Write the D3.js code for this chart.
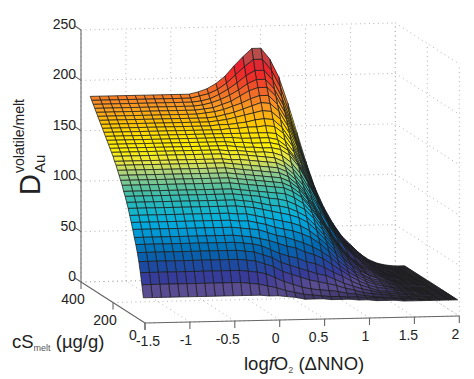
<!DOCTYPE html>
<html><head><meta charset="utf-8">
<style>html,body{margin:0;padding:0;background:#fff}svg{display:block}text{font-family:"Liberation Sans",Arial,sans-serif;fill:#222}</style>
<script src="https://cdn.jsdelivr.net/npm/d3@7"></script>
</head><body><svg id="c" width="474" height="379"></svg>
<script>
const logfO2 = [-1.5,-1.4,-1.3,-1.2,-1.1,-1,-0.9,-0.8,-0.7,-0.6,-0.5,-0.4,-0.3,-0.2,-0.1,0,0.1,0.2,0.3,0.4,0.5,0.6,0.7,0.8,0.9,1,1.1,1.2,1.3,1.4,1.5,1.6,1.7,1.8,1.9,2];
const cSmelt = [10,19.5,29,38.5,48,57.5,67,76.5,86,95.5,105,114.5,124,133.5,143,152.5,162,171.5,181,190.5,200,209.5,219,228.5,238,247.5,257,266.5,276,285.5,295,304.5,314,323.5,333,342.5];
const D = [
[24,24,24,24,24,24,24,24,24,24,24,24,24,24,23,23,22,21,19,19,19,18,18,18,17,17,16,16,16,15,15,15,15,15,15,15],
[36,36,36,36,36,36,36,36,36,36,36,36,35,34,32,30,27,25,23,22,21,20,20,19,19,18,18,17,17,16,16,15,15,15,15,15],
[47,47,47,47,47,47,47,47,47,47,47,47,46,45,43,39,35,32,29,27,26,25,24,22,21,19,18,17,17,16,16,15,15,15,15,15],
[57,57,57,57,57,57,57,57,57,57,57,57,56,55,52,49,44,41,38,35,33,31,29,26,24,21,20,19,18,17,16,16,15,15,15,15],
[65,65,65,65,65,65,65,65,65,65,65,65,64,63,60,57,52,49,46,43,40,38,34,30,27,24,22,20,19,18,17,16,15,15,15,15],
[72,72,72,72,72,72,72,72,72,72,72,72,71,70,68,64,60,57,55,51,49,45,40,36,31,27,24,21,20,19,17,16,16,15,15,15],
[78,78,78,78,78,78,78,78,78,78,78,78,77,76,74,72,69,66,64,60,57,53,47,41,35,30,26,23,22,20,18,16,16,15,15,15],
[85,85,85,85,85,85,85,85,85,85,85,85,84,83,82,79,76,74,71,68,64,59,53,45,38,33,28,25,23,21,18,17,16,15,15,15],
[91,91,91,91,91,91,91,91,91,91,91,91,90,90,88,86,83,81,79,76,72,66,58,49,42,35,30,26,24,21,19,17,16,15,15,15],
[97,97,97,97,97,97,97,97,97,97,97,97,96,96,94,92,90,88,86,83,78,71,63,54,45,37,32,27,25,22,19,17,16,15,15,15],
[103,103,103,103,103,103,103,103,103,103,103,103,103,102,101,99,97,95,93,90,85,77,67,57,48,40,33,28,26,23,20,17,16,15,15,15],
[108,108,108,108,108,108,108,108,108,108,108,108,108,107,106,104,102,101,99,95,90,81,71,61,50,41,35,30,27,23,20,17,16,15,15,15],
[113,113,113,113,113,113,113,113,113,113,113,113,113,112,111,110,108,107,105,101,96,87,75,64,53,43,36,30,27,24,20,18,16,15,15,15],
[117,117,117,117,117,117,117,117,117,117,117,117,117,116,115,114,113,112,111,107,101,91,79,67,55,45,38,31,28,25,21,18,16,15,15,15],
[122,122,122,122,122,122,122,122,122,122,122,122,122,121,120,119,118,117,116,112,106,95,83,70,57,47,39,32,29,25,21,18,17,16,15,15],
[126,126,126,126,126,126,126,126,126,126,126,126,126,125,124,123,122,121,120,116,109,98,85,72,59,48,40,33,30,25,21,18,17,16,15,15],
[130,130,130,130,130,130,130,130,130,130,130,130,130,129,128,127,126,125,124,120,113,102,88,74,61,49,41,34,30,26,21,18,17,16,15,15],
[134,134,134,134,134,134,134,134,134,134,134,134,134,133,132,131,130,129,128,124,116,105,91,76,62,50,41,34,31,26,22,18,17,16,15,15],
[138,138,138,138,138,138,138,138,138,138,138,138,138,137,136,135,134,133,132,128,120,108,94,79,64,52,42,35,31,27,22,18,17,16,15,15],
[141,141,141,141,141,141,141,141,141,141,141,141,141,140,140,139,138,137,136,132,124,113,98,82,67,54,44,36,32,27,22,19,17,16,15,15],
[145,145,145,145,145,145,145,145,145,145,145,145,145,144,144,143,142,141,140,136,129,118,103,87,72,58,47,38,32,27,22,19,17,16,15,15],
[148,148,148,148,148,148,148,148,148,148,148,148,148,147,147,146,145,145,144,141,134,123,108,91,75,60,49,40,33,28,23,19,17,16,15,15],
[151,151,151,151,151,151,151,151,151,151,151,151,151,151,150,149,149,148,148,146,140,129,113,96,78,63,51,41,33,28,23,19,17,16,15,15],
[154,154,154,154,154,154,154,154,154,154,154,154,154,154,153,153,152,152,152,150,144,132,116,98,80,64,52,42,34,29,23,19,17,16,15,15],
[157,157,157,157,157,157,157,157,157,157,157,157,157,157,157,156,156,156,156,154,147,135,119,100,82,65,53,43,35,29,23,19,17,16,15,15],
[160,160,160,160,160,160,160,160,160,160,160,160,160,160,160,160,160,160,160,159,152,140,122,103,85,67,54,44,35,30,24,19,17,16,15,15],
[163,163,163,163,163,163,163,163,163,163,163,163,163,163,164,164,165,165,166,165,158,145,127,107,87,69,56,45,36,30,24,20,17,16,15,15],
[166,166,166,166,166,166,166,166,166,166,166,166,166,167,167,168,169,171,172,171,163,150,131,111,90,72,57,46,37,31,24,20,17,16,15,15],
[169,169,169,169,169,169,169,169,169,169,169,169,169,170,171,173,175,177,179,178,170,156,136,115,94,74,59,48,38,31,25,20,17,16,15,15],
[172,172,172,172,172,172,172,172,172,172,172,172,172,173,175,177,180,183,186,185,177,162,142,119,97,77,61,49,39,32,25,20,18,16,15,15],
[175,175,175,175,175,175,175,175,175,175,175,175,176,177,179,182,185,189,192,192,183,168,147,124,100,79,63,51,40,33,26,20,18,16,15,15],
[178,178,178,178,178,178,178,178,178,178,178,178,179,180,183,186,191,196,199,199,190,174,152,128,104,82,65,52,41,34,26,21,18,16,15,15],
[181,181,181,181,181,181,181,181,181,181,181,181,182,184,187,191,196,202,206,206,196,180,157,132,107,84,67,53,42,34,27,21,18,16,15,15],
[184,184,184,184,184,184,184,184,184,184,184,184,185,187,191,196,202,209,214,214,204,187,163,137,111,87,69,55,43,35,27,21,18,16,15,15],
[187,187,187,187,187,187,187,187,187,187,187,187,189,191,195,201,209,217,224,224,213,196,170,143,116,91,72,57,44,36,28,21,18,16,15,15],
[190,190,190,190,190,190,190,190,190,190,190,190,192,195,200,207,217,226,234,234,223,205,179,150,121,95,75,59,46,37,28,22,18,16,15,15]
];
const xTicks = [-1.5,-1,-0.5,0,0.5,1,1.5,2];
const xTickLabels = ["-1.5","-1","-0.5","0","0.5","1","1.5","2"];
const yTicks = [0,200,400];
const yTickLabels = ["0","200","400"];
const zTicks = [0,50,100,150,200,250];
const zTickLabels = ["0","50","100","150","200","250"];
const colorStops = [0,15,20,25,30,40,52,65,78,90,105,118,130,140,150,160,170,180,195,207,217,226,236];
const colorValues = ["#1a1a20","#2e2a3c","#3e3664","#54488a","#5a4c90","#3a3a98","#1d4aa0","#0068b0","#0090d0","#00aee0","#20b8c0","#50c0a0","#a0d088","#e8e840","#fff000","#ffe000","#ffc000","#fca020","#f06828","#f03028","#e8202c","#c04848","#a85850"];

const svg = d3.select("#c");
const xS = d3.scaleLinear().domain([-1.5,2]);
const xPx = xS.copy().range([145,459.3]), xPy = xS.copy().range([0,-7]);
const yS = d3.scaleLinear().domain([0,400]);
const yPx = yS.copy().range([0,-64]), yPy = yS.copy().range([0,-41]);
const zPy = d3.scaleLinear().domain([0,250]).range([0,-252]);
const color = d3.scaleLinear().domain(colorStops).range(colorValues).interpolate(d3.interpolateRgb).clamp(true);
const P = (x,y,z)=>[xPx(x)+yPx(y), 323+xPy(x)+yPy(y)+zPy(z)];
const line = d3.line();
const grid = svg.append("g").attr("fill","none").attr("stroke","#b4b4b4").attr("stroke-width",1).attr("stroke-dasharray","1,3.5");
const seg = (a,b)=>grid.append("path").attr("d",line([P(...a),P(...b)]));
const xMax=2,xMin=-1.5,yMax=400,zMax=250;
zTicks.forEach(z=>{seg([xMin,yMax,z],[xMax,yMax,z]);seg([xMax,yMax,z],[xMax,0,z]);});
xTicks.forEach(x=>{seg([x,yMax,0],[x,yMax,zMax]);seg([x,0,0],[x,yMax,0]);});
yTicks.forEach(y=>{seg([xMax,y,0],[xMax,y,zMax]);seg([xMin,y,0],[xMax,y,0]);});

// axes
const ax = svg.append("g").attr("fill","none").attr("stroke","#666").attr("stroke-width",1.1);
const aseg=(a,b)=>ax.append("path").attr("d",line([a,b]));
aseg(P(xMin,0,0),P(xMax,0,0));
aseg(P(xMin,0,0),P(xMin,yMax,0));
aseg(P(xMin,yMax,0),P(xMin,yMax,zMax));
const lab = svg.append("g").attr("font-size",14);
xTicks.forEach((x,i)=>{const p=P(x,0,0);aseg(p,[p[0],p[1]+7]);
  const dx = i===0?3:(i===2?-7:(i===4||i===6?-6:-4));
  lab.append("text").attr("x",p[0]+dx).attr("y",p[1]+23).attr("text-anchor","middle").text(xTickLabels[i]);});
yTicks.forEach((y,i)=>{const p=P(xMin,y,0);aseg(p,[p[0],p[1]+7]);
  lab.append("text").attr("x",p[0]+(i===0?-12:-8)).attr("y",p[1]+(i===0?17:22)).attr("text-anchor","middle").text(yTickLabels[i]);});
zTicks.forEach((z,i)=>{const p=P(xMin,yMax,z);const e=[p[0]-6,p[1]-4];aseg(p,e);
  lab.append("text").attr("x",e[0]+1).attr("y",e[1]+3).attr("text-anchor","end").text(zTickLabels[i]);});

// surface, painted back to front
const surf = svg.append("g").attr("stroke","#1c1c1c").attr("stroke-width",0.75).attr("stroke-linejoin","round");
for(let j=cSmelt.length-2;j>=0;j--){
  for(let i=logfO2.length-2;i>=0;i--){
    const c=[[i,j],[i+1,j],[i+1,j+1],[i,j+1]];
    const avg=d3.mean(c,([a,b])=>D[b][a]);
    surf.append("path").attr("d",line(c.map(([a,b])=>P(logfO2[a],cSmelt[b],D[b][a])))+"Z").attr("fill",color(avg));
  }
}

// titles
const t1=svg.append("text").attr("x",12).attr("y",348).attr("font-size",18.5);
t1.append("tspan").text("cS");
t1.append("tspan").attr("font-size",9).attr("dy",3).attr("fill","#555").text("melt");
t1.append("tspan").attr("dy",-3).text(" (µg/g)");
const t2=svg.append("text").attr("x",244).attr("y",370).attr("font-size",18.5);
t2.append("tspan").text("log");
t2.append("tspan").attr("font-style","italic").text("f");
t2.append("tspan").text("O");
t2.append("tspan").attr("font-size",9).attr("dy",3).attr("fill","#555").text("2");
t2.append("tspan").attr("dy",-3).text(" (ΔNNO)");
const rot=(x,y,size,s)=>svg.append("text").attr("transform",`translate(${x},${y}) rotate(-90)`).attr("font-size",size).text(s);
rot(40,195,29,"D");
rot(45,173,15,"Au");
rot(24,173,14,"volatile/melt");
</script></body></html>
